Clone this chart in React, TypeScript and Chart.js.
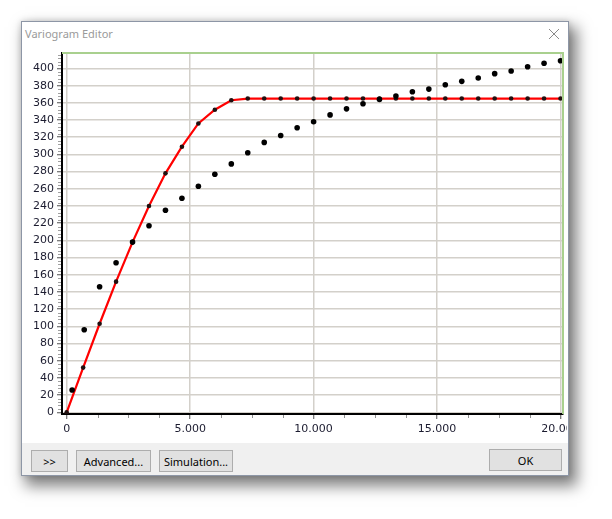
import React, { useEffect, useRef } from "react";
import { Chart, registerables } from "chart.js";

Chart.register(...registerables);

// Lag distances and semivariances
const modelLags = [0, 667, 1333, 2000, 2667, 3333, 4000, 4667, 5333, 6000, 6667, 7333, 8000, 8667, 9333, 10000, 10667, 11333, 12000, 12667, 13333, 14000, 14667, 15333, 16000, 16667, 17333, 18000, 18667, 19333, 20000];
const modelValues = [0, 52, 103, 152, 198, 240, 278, 309, 336, 352, 363, 365, 365, 365, 365, 365, 365, 365, 365, 365, 365, 365, 365, 365, 365, 365, 365, 365, 365, 365, 365];

const expLags = [220, 710, 1333, 2000, 2667, 3333, 4000, 4667, 5333, 6000, 6667, 7333, 8000, 8667, 9333, 10000, 10667, 11333, 12000, 12667, 13333, 14000, 14667, 15333, 16000, 16667, 17333, 18000, 18667, 19333, 20000];
const expValues = [26, 96, 146, 174, 198, 217, 235, 249, 263, 277, 289, 302, 314, 322, 331, 338, 346, 353, 359, 364, 368, 373, 376, 381, 385, 389, 394, 397, 402, 406, 409];

const xTicks = [0, 5000, 10000, 15000, 20000];
const yTicks = [0, 20, 40, 60, 80, 100, 120, 140, 160, 180, 200, 220, 240, 260, 280, 300, 320, 340, 360, 380, 400];
const X_MIN = -190;
const X_MAX = 20100;
const Y_MIN = -2;
const Y_MAX = 418;
const X_MINOR_STEP = 1250;
const Y_MINOR_STEP = 4;

const frameTicksPlugin = {
  id: "frameTicks",
  afterDraw(chart: any) {
    const { ctx, chartArea } = chart;
    const xs = chart.scales.x;
    const ys = chart.scales.y;
    ctx.save();
    ctx.strokeStyle = "#a0a0a0";
    ctx.lineWidth = 1;
    for (let v = 0; v <= Y_MAX; v += Y_MINOR_STEP) {
      if (v % 20 === 0) continue;
      const y = Math.round(ys.getPixelForValue(v)) + 0.5;
      ctx.beginPath();
      ctx.moveTo(chartArea.left - 4, y);
      ctx.lineTo(chartArea.left - 1, y);
      ctx.stroke();
    }
    ctx.strokeStyle = "#909090";
    for (let v = 0; v <= X_MAX; v += X_MINOR_STEP) {
      if (v % 5000 === 0) continue;
      const x = Math.round(xs.getPixelForValue(v)) + 0.5;
      ctx.beginPath();
      ctx.moveTo(x, chartArea.bottom + 1);
      ctx.lineTo(x, chartArea.bottom + 4);
      ctx.stroke();
    }
    ctx.strokeStyle = "#a9d08e";
    ctx.lineWidth = 2;
    ctx.beginPath();
    ctx.moveTo(chartArea.left, chartArea.top);
    ctx.lineTo(chartArea.right, chartArea.top);
    ctx.lineTo(chartArea.right, chartArea.bottom);
    ctx.stroke();
    ctx.restore();
  },
};

function fmtThousands(v: number): string {
  if (v === 0) return "0";
  const s = String(Math.round(v));
  return s.replace(/\B(?=(\d{3})+(?!\d))/g, ".");
}

function VariogramChart() {
  const ref = useRef<HTMLCanvasElement | null>(null);
  useEffect(() => {
    if (!ref.current) return;
    const chart = new Chart(ref.current, {
      type: "scatter",
      data: {
        datasets: [
          {
            label: "Experimental",
            data: expLags.map((x, i) => ({ x, y: expValues[i] })),
            showLine: false,
            pointRadius: 2.8,
            pointBackgroundColor: "#000000",
            pointBorderWidth: 0,
            order: 0,
          },
          {
            label: "Model",
            data: modelLags.map((x, i) => ({ x, y: modelValues[i] })),
            showLine: true,
            borderColor: "#ff0000",
            borderWidth: 2.2,
            tension: 0,
            pointRadius: 2.3,
            pointBackgroundColor: "#201010",
            pointBorderWidth: 0,
            order: 1,
          },
        ],
      },
      options: {
        responsive: false,
        animation: false,
        devicePixelRatio: 1,
        layout: { padding: { top: 9, right: 3, left: 0, bottom: 0 } },
        plugins: { legend: { display: false }, tooltip: { enabled: false } },
        scales: {
          x: {
            type: "linear",
            min: X_MIN,
            max: X_MAX,
            afterBuildTicks: (s: any) => {
              s.ticks = xTicks.map((v) => ({ value: v }));
            },
            afterFit: (s: any) => {
              s.height = 29;
              s.paddingLeft = 0;
              s.paddingRight = 0;
            },
            border: { display: true, color: "#000000", width: 2 },
            grid: {
              color: "#d3d0ca",
              lineWidth: 1.5,
              drawTicks: true,
              tickLength: 5,
              tickColor: "#505050",
              tickWidth: 1,
            },
            ticks: {
              autoSkip: false,
              maxRotation: 0,
              padding: 4,
              color: "#1c1c30",
              font: { family: "DejaVu Sans", size: 11 },
              callback: (v: any) => fmtThousands(Number(v)),
            },
          },
          y: {
            type: "linear",
            min: Y_MIN,
            max: Y_MAX,
            afterBuildTicks: (s: any) => {
              s.ticks = yTicks.map((v) => ({ value: v }));
            },
            afterFit: (s: any) => {
              s.width = 41;
              s.paddingTop = 0;
              s.paddingBottom = 0;
            },
            border: { display: true, color: "#000000", width: 2 },
            grid: {
              color: "#d3d0ca",
              lineWidth: 1.5,
              drawTicks: true,
              tickLength: 5,
              tickColor: "#505050",
              tickWidth: 1,
            },
            ticks: {
              autoSkip: false,
              padding: 3,
              color: "#1c1c30",
              font: { family: "DejaVu Sans", size: 11 },
              callback: (v: any) => String(v),
            },
          },
        },
      },
      plugins: [frameTicksPlugin],
    } as any);
    return () => chart.destroy();
  }, []);
  return <canvas ref={ref} width={546} height={399} style={{ position: "absolute", left: 0, top: 23, width: 546, height: 399 }} />;
}

const btn: React.CSSProperties = {
  position: "absolute",
  boxSizing: "border-box",
  background: "#e1e1e1",
  border: "1px solid #adadad",
  fontFamily: "'Noto Sans', 'Open Sans', sans-serif",
  fontSize: 11,
  color: "#000",
  display: "flex",
  alignItems: "center",
  justifyContent: "center",
  height: 22,
};

export default function App() {
  return (
    <div style={{ position: "fixed", left: 0, top: 0, width: 612, height: 519, background: "#ffffff", overflow: "hidden" }}>
      <div
        style={{
          position: "absolute",
          left: 21,
          top: 21,
          width: 548,
          height: 455,
          background: "#ffffff",
          overflow: "hidden",
          boxShadow: "6px 8px 14px 2px rgba(0,0,0,0.5), 0 0 6px rgba(0,0,0,0.15)",
        }}
      >
        <div
          style={{
            position: "absolute",
            left: 4,
            top: 4,
            fontFamily: "'Noto Sans', 'Open Sans', sans-serif",
            fontSize: 11,
            lineHeight: "18px",
            color: "#9a9a9a",
          }}
        >
          Variogram Editor
        </div>
        <svg style={{ position: "absolute", left: 527, top: 7 }} width={12} height={12}>
          <line x1={1} y1={1} x2={11} y2={11} stroke="#8a8a8a" strokeWidth={1} />
          <line x1={11} y1={1} x2={1} y2={11} stroke="#8a8a8a" strokeWidth={1} />
        </svg>
        <VariogramChart />
        <div style={{ position: "absolute", left: 0, top: 422, width: 548, height: 33, background: "#f0f0f0" }}>
          <div style={{ ...btn, left: 10, top: 7, width: 37 }}>&gt;&gt;</div>
          <div style={{ ...btn, left: 55, top: 7, width: 75 }}>Advanced...</div>
          <div style={{ ...btn, left: 138, top: 7, width: 74 }}>Simulation...</div>
          <div style={{ ...btn, left: 468, top: 6, width: 73 }}>OK</div>
        </div>
        <div
          style={{
            position: "absolute",
            left: 0,
            top: 0,
            width: 548,
            height: 455,
            boxSizing: "border-box",
            border: "1px solid #8d96a6",
            pointerEvents: "none",
          }}
        />
      </div>
    </div>
  );
}
